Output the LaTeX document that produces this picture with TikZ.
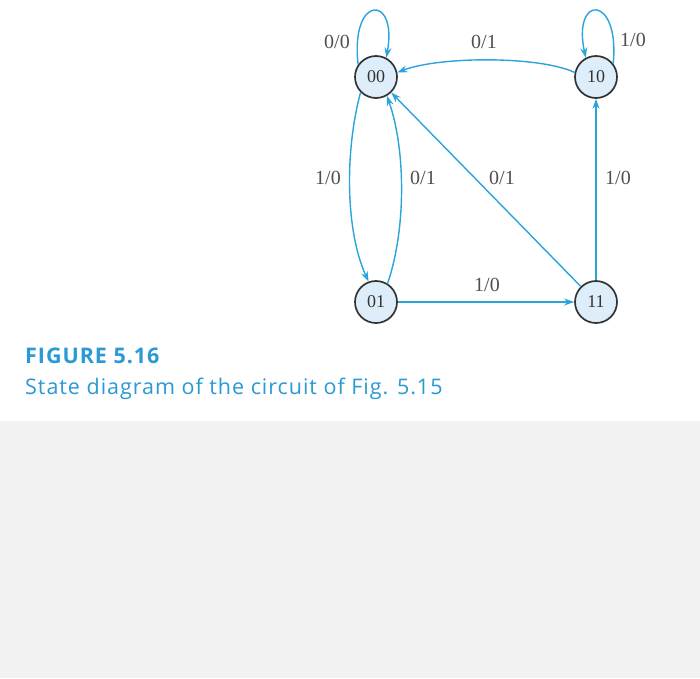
\documentclass[tikz,border=0pt]{standalone}
\usepackage{fontspec}
\setmainfont{Liberation Serif}
\newfontfamily\capfont[LetterSpace=4.5]{Open Sans}
\usetikzlibrary{arrows.meta}
\definecolor{edgeblue}{HTML}{2AA4DD}
\definecolor{capblue}{HTML}{2A9AD4}
\definecolor{nodefill}{HTML}{DDEEFA}
\definecolor{nodeline}{HTML}{333333}
\definecolor{labgray}{HTML}{505050}
\definecolor{bggray}{HTML}{F2F2F2}
\begin{document}
\begin{tikzpicture}[x=1pt,y=-1pt,
  statenode/.style={circle,draw=nodeline,line width=1.7pt,fill=nodefill,minimum size=42pt,inner sep=0pt,font=\fontsize{18}{20}\selectfont,text=nodeline},
  arr/.style={draw=edgeblue,line width=1.4pt,-{Stealth[length=10pt,width=7pt]}},
  lab/.style={font=\fontsize{20}{22}\selectfont,text=labgray,inner sep=0pt},
  captitle/.style={font=\capfont\bfseries\fontsize{21.5}{24}\selectfont,text=capblue,anchor=base west,inner sep=0pt},
  captext/.style={font=\capfont\fontsize{21.5}{24}\selectfont,text=capblue,anchor=base west,inner sep=0pt}]
\useasboundingbox (0,0) rectangle (700,678);
\fill[white] (0,0) rectangle (700,421);
\fill[bggray] (0,421) rectangle (700,678);

\node[statenode] (n00) at (376,77) {00};
\node[statenode] (n10) at (596,77) {10};
\node[statenode] (n01) at (376,302) {01};
\node[statenode] (n11) at (596,302) {11};

% self loops
\draw[arr] (n00.145) .. controls (350,-6) and (398,-6) .. (n00.62);
\draw[arr] (n10.38) .. controls (620,-6) and (572,-6) .. (n10.118);

% 10 -> 00
\draw[arr] (n10.168) .. controls (540,56) and (440,56) .. (n00.12);
% 00 -> 01
\draw[arr] (n00.225) .. controls (345,150) and (345,230) .. (n01.110);
% 01 -> 00
\draw[arr] (n01.58) .. controls (406,230) and (406,150) .. (n00.300);
% 11 -> 00
\draw[arr] (n11) -- (n00);
% 11 -> 10
\draw[arr] (n11) -- (n10);
% 01 -> 11
\draw[arr] (n01) -- (n11);

% labels
\node[lab] (l1) at (337,42) {0/0};
\node[lab] (l2) at (484,42) {0/1};
\node[lab] (l3) at (633,40) {1/0};
\node[lab] (l4) at (328,178) {1/0};
\node[lab] (l5) at (423,178) {0/1};
\node[lab] (l6) at (502,178) {0/1};
\node[lab] (l7) at (618,178) {1/0};
\node[lab] (l8) at (487,285) {1/0};

% caption
\node[captitle] (c1) at (25,363) {FIGURE 5.16};
\node[captext] (c2) at (25,394) {State diagram of the circuit of Fig. 5.15};
\end{tikzpicture}
\end{document}
